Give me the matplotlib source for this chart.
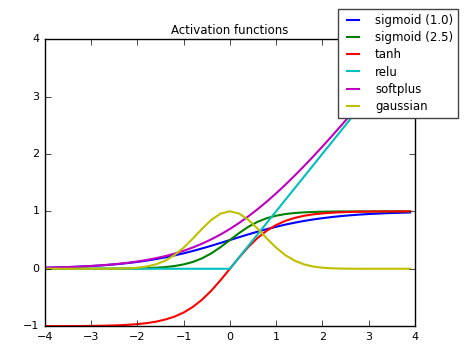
import matplotlib
matplotlib.use("Agg")
import matplotlib.pyplot as plt

plt.style.use("classic")

# sample points
x = [-4.0, -3.8, -3.6, -3.4, -3.2, -3.0, -2.8, -2.6, -2.4, -2.2,
     -2.0, -1.8, -1.6, -1.4, -1.2, -1.0, -0.8, -0.6, -0.4, -0.2,
     0.0, 0.2, 0.4, 0.6, 0.8, 1.0, 1.2, 1.4, 1.6, 1.8,
     2.0, 2.2, 2.4, 2.6, 2.8, 3.0, 3.2, 3.4, 3.6, 3.8, 3.9]

sigmoid_1 = [0.018, 0.022, 0.027, 0.032, 0.039, 0.047, 0.057, 0.069, 0.083, 0.100,
             0.119, 0.142, 0.168, 0.198, 0.232, 0.269, 0.310, 0.354, 0.401, 0.450,
             0.500, 0.550, 0.599, 0.646, 0.690, 0.731, 0.769, 0.802, 0.832, 0.858,
             0.881, 0.900, 0.917, 0.931, 0.943, 0.953, 0.961, 0.968, 0.973, 0.978, 0.980]

sigmoid_25 = [0.000, 0.000, 0.000, 0.000, 0.000, 0.001, 0.001, 0.002, 0.003, 0.004,
              0.007, 0.011, 0.018, 0.029, 0.047, 0.076, 0.119, 0.182, 0.269, 0.378,
              0.500, 0.622, 0.731, 0.818, 0.881, 0.924, 0.953, 0.971, 0.982, 0.989,
              0.993, 0.996, 0.998, 0.998, 0.999, 0.999, 1.000, 1.000, 1.000, 1.000, 1.000]

tanh = [-0.999, -0.999, -0.999, -0.998, -0.997, -0.995, -0.993, -0.989, -0.984, -0.976,
        -0.964, -0.947, -0.922, -0.885, -0.834, -0.762, -0.664, -0.537, -0.380, -0.197,
        0.000, 0.197, 0.380, 0.537, 0.664, 0.762, 0.834, 0.885, 0.922, 0.947,
        0.964, 0.976, 0.984, 0.989, 0.993, 0.995, 0.997, 0.998, 0.999, 0.999, 0.999]

relu = [0.0, 0.0, 0.0, 0.0, 0.0, 0.0, 0.0, 0.0, 0.0, 0.0,
        0.0, 0.0, 0.0, 0.0, 0.0, 0.0, 0.0, 0.0, 0.0, 0.0,
        0.0, 0.2, 0.4, 0.6, 0.8, 1.0, 1.2, 1.4, 1.6, 1.8,
        2.0, 2.2, 2.4, 2.6, 2.8, 3.0, 3.2, 3.4, 3.6, 3.8, 3.9]

softplus = [0.018, 0.022, 0.027, 0.033, 0.040, 0.049, 0.059, 0.072, 0.087, 0.105,
            0.127, 0.153, 0.184, 0.220, 0.263, 0.313, 0.371, 0.438, 0.513, 0.598,
            0.693, 0.798, 0.913, 1.038, 1.171, 1.313, 1.463, 1.620, 1.784, 1.953,
            2.127, 2.305, 2.487, 2.672, 2.859, 3.049, 3.240, 3.433, 3.627, 3.822, 3.920]

gaussian = [0.000, 0.000, 0.000, 0.000, 0.000, 0.000, 0.000, 0.001, 0.003, 0.008,
            0.018, 0.039, 0.077, 0.141, 0.237, 0.368, 0.527, 0.698, 0.852, 0.961,
            1.000, 0.961, 0.852, 0.698, 0.527, 0.368, 0.237, 0.141, 0.077, 0.039,
            0.018, 0.008, 0.003, 0.001, 0.000, 0.000, 0.000, 0.000, 0.000, 0.000, 0.000]

series = [("sigmoid (1.0)", sigmoid_1, "b"),
          ("sigmoid (2.5)", sigmoid_25, "g"),
          ("tanh", tanh, "r"),
          ("relu", relu, "c"),
          ("softplus", softplus, "m"),
          ("gaussian", gaussian, "y")]

fig = plt.figure(figsize=(4.74, 3.62), dpi=100, facecolor="white")
ax = fig.add_axes([0.095, 0.099, 0.78, 0.793])

for name, ys, col in series:
    ax.plot(x, ys, color=col, lw=1.5, label=name)

ax.set_xlim(-4, 4)
ax.set_ylim(-1, 4)
ax.set_xticks([-4, -3, -2, -1, 0, 1, 2, 3, 4])
ax.set_yticks([-1, 0, 1, 2, 3, 4])
ax.tick_params(labelsize=8)
ax.set_title("Activation functions", fontsize=8.5, pad=4)

fig.legend(loc="upper right", bbox_to_anchor=(0.966, 0.975), borderaxespad=0,
           fontsize=8.5, handlelength=1.6, handletextpad=1.1, labelspacing=0.36,
           framealpha=1, edgecolor="#444444")

fig.savefig("out.png", dpi=100, facecolor="white")
